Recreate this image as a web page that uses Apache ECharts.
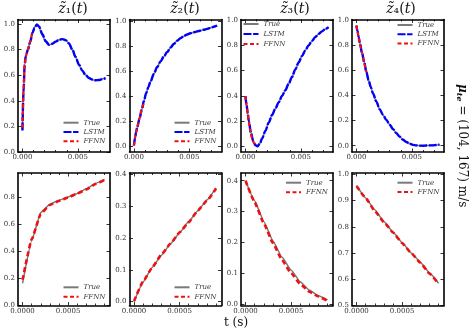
<!DOCTYPE html>
<html>
<head>
<meta charset="utf-8">
<script src="https://cdn.jsdelivr.net/npm/echarts@6/dist/echarts.min.js"></script>
<style>
  html, body { margin: 0; padding: 0; background: #fff; }
  #chart { width: 474px; height: 335px; }
</style>
</head>
<body>
<div id="chart"></div>
<script>
// ---- time grids (s) ----
const tLong = [0, 0.0001, 0.0002, 0.0003, 0.0005, 0.0007, 0.0009, 0.0011, 0.0013, 0.0015,
  0.0018, 0.0021, 0.0024, 0.0027, 0.0030, 0.0033, 0.0036, 0.0039, 0.0042, 0.0045,
  0.0048, 0.0051, 0.0054, 0.0057, 0.0060, 0.0063, 0.0066, 0.0069, 0.0072, 0.0075];
const tShort = [0, 0.0001, 0.0002, 0.0003, 0.0004, 0.0005, 0.0006, 0.0007, 0.0008, 0.0009];

// ---- full-horizon trajectories ----
const z1True = [0.165, 0.48, 0.69, 0.75, 0.805, 0.865, 0.935, 0.975, 1.0, 0.975,
  0.91, 0.86, 0.835, 0.845, 0.862, 0.876, 0.882, 0.875, 0.85, 0.80,
  0.74, 0.68, 0.635, 0.60, 0.578, 0.565, 0.56, 0.562, 0.57, 0.578];
const z1Lstm = [0.17, 0.47, 0.68, 0.75, 0.80, 0.86, 0.93, 0.97, 0.995, 0.98,
  0.92, 0.865, 0.838, 0.845, 0.862, 0.876, 0.882, 0.874, 0.848, 0.80,
  0.742, 0.682, 0.636, 0.60, 0.578, 0.566, 0.56, 0.562, 0.569, 0.577];
const z2True = [0, 0.062, 0.108, 0.146, 0.217, 0.286, 0.358, 0.42, 0.47, 0.515,
  0.575, 0.63, 0.675, 0.715, 0.75, 0.785, 0.815, 0.84, 0.86, 0.877,
  0.89, 0.90, 0.908, 0.915, 0.921, 0.928, 0.935, 0.943, 0.952, 0.962];
const z2Lstm = [0.003, 0.064, 0.11, 0.148, 0.218, 0.287, 0.358, 0.42, 0.47, 0.515,
  0.576, 0.63, 0.675, 0.714, 0.75, 0.785, 0.815, 0.84, 0.86, 0.877,
  0.89, 0.90, 0.908, 0.915, 0.921, 0.928, 0.935, 0.943, 0.952, 0.962];
const z3True = [0.40, 0.335, 0.268, 0.205, 0.11, 0.045, 0.013, 0.002, 0.025, 0.065,
  0.125, 0.19, 0.25, 0.30, 0.35, 0.40, 0.445, 0.495, 0.55, 0.61,
  0.665, 0.715, 0.76, 0.80, 0.835, 0.865, 0.89, 0.91, 0.928, 0.945];
const z3Lstm = [0.40, 0.333, 0.266, 0.203, 0.108, 0.044, 0.012, 0.003, 0.024, 0.064,
  0.125, 0.19, 0.25, 0.30, 0.35, 0.40, 0.446, 0.496, 0.55, 0.61,
  0.665, 0.715, 0.76, 0.80, 0.835, 0.865, 0.89, 0.91, 0.928, 0.944];
const z4True = [0.958, 0.91, 0.865, 0.82, 0.74, 0.665, 0.585, 0.52, 0.465, 0.415,
  0.35, 0.29, 0.245, 0.205, 0.168, 0.132, 0.10, 0.072, 0.048, 0.03,
  0.016, 0.007, 0.002, 0.0, 0.0, 0.001, 0.002, 0.004, 0.006, 0.008];
const z4Lstm = [0.955, 0.91, 0.864, 0.82, 0.74, 0.665, 0.586, 0.52, 0.465, 0.415,
  0.35, 0.29, 0.245, 0.205, 0.168, 0.132, 0.10, 0.072, 0.048, 0.03,
  0.016, 0.007, 0.003, 0.001, 0.0, 0.002, 0.003, 0.003, 0.006, 0.009];

// ---- early-time window ----
const z1Short = [0.165, 0.48, 0.69, 0.75, 0.78, 0.805, 0.83, 0.865, 0.905, 0.935];
const z1Ffnn  = [0.19, 0.49, 0.68, 0.745, 0.775, 0.80, 0.83, 0.86, 0.90, 0.93];
const z2Short = [0, 0.062, 0.108, 0.146, 0.182, 0.217, 0.252, 0.286, 0.32, 0.358];
const z2Ffnn  = [0.002, 0.064, 0.108, 0.148, 0.183, 0.218, 0.25, 0.287, 0.318, 0.356];
const z3Short = [0.40, 0.335, 0.268, 0.205, 0.152, 0.11, 0.072, 0.045, 0.027, 0.013];
const z3Ffnn  = [0.40, 0.33, 0.262, 0.198, 0.142, 0.10, 0.065, 0.04, 0.024, 0.01];
const z4Short = [0.958, 0.91, 0.865, 0.82, 0.78, 0.74, 0.70, 0.665, 0.625, 0.585];
const z4Ffnn  = [0.955, 0.91, 0.86, 0.818, 0.778, 0.738, 0.70, 0.663, 0.622, 0.583];

// ---- tick values ----
const xMajorLong = [0, 0.005];
const xMinorLong = [0.001, 0.002, 0.003, 0.004, 0.006, 0.007];
const xMajorShort = [0, 0.0005];
const xMinorShort = [0.0001, 0.0002, 0.0003, 0.0004, 0.0006, 0.0007, 0.0008, 0.0009];
const yTicksUnit = [0, 0.2, 0.4, 0.6, 0.8, 1.0];
const yTicksZ1Short = [0, 0.2, 0.4, 0.6, 0.8];
const yTicksLow = [0, 0.1, 0.2, 0.3, 0.4];
const yTicksZ4Short = [0.5, 0.6, 0.7, 0.8, 0.9, 1.0];

const C_TRUE = '#7a7a7a', C_LSTM = '#0000ff', C_FFNN = '#ee1111';
const SERIF = 'DejaVu Serif';

const pair = (ts, vs) => ts.map((t, i) => [t, vs[i]]);

// panel layout and content
const panels = [
  { left: 18,  top: 19.5, x: [-0.0004, 0.0079], y: [0, 1.035],    yt: yTicksUnit, long: true,
    tr: z1True, ls: z1Lstm, ff: z1Ffnn, leg: [62.5, 118.2, 0.3] },
  { left: 129.5, top: 19.5, x: [-0.0004, 0.0079], y: [-0.05, 1.01], yt: yTicksUnit, long: true,
    tr: z2True, ls: z2Lstm, ff: z2Ffnn, leg: [173.5, 118.2, 0.3] },
  { left: 241, top: 19.5, x: [-0.0004, 0.0079], y: [-0.042, 1.004], yt: yTicksUnit, long: true,
    tr: z3True, ls: z3Lstm, ff: z3Ffnn, leg: [242.5, 19.5, 1] },
  { left: 352, top: 19.5, x: [-0.0004, 0.0079], y: [-0.05, 1.004], yt: yTicksUnit, long: true,
    tr: z4True, ls: z4Lstm, ff: z4Ffnn, leg: [396.5, 20.5, 0.3] },
  { left: 18,  top: 173, x: [-0.00005, 0.00096], y: [0, 0.982],   yt: yTicksZ1Short, long: false,
    tr: z1Short, ff: z1Ffnn, leg: [62.5, 282.8, 0.4] },
  { left: 129.5, top: 173, x: [-0.00005, 0.00096], y: [-0.012, 0.405], yt: yTicksLow, long: false,
    tr: z2Short, ff: z2Ffnn, leg: [173.5, 282.8, 0.4] },
  { left: 241, top: 173, x: [-0.00005, 0.00096], y: [-0.005, 0.425], yt: yTicksLow, long: false,
    tr: z3Short, ff: z3Ffnn, leg: [285, 178.2, 0.6] },
  { left: 352, top: 173, x: [-0.00005, 0.00096], y: [0.5, 1.005], yt: yTicksZ4Short, long: false,
    tr: z4Short, ff: z4Ffnn, leg: [396.5, 178.2, 0.3] }
];
const PW = 92, PH = 132.5;

const grid = [], xAxis = [], yAxis = [], series = [], legend = [];

function xAx(gi, p, position, ticks, len, main, labels) {
  const dec = p.long ? 3 : 4;
  return {
    type: 'value', gridIndex: gi, position, min: p.x[0], max: p.x[1],
    axisLine: { show: main, onZero: false, lineStyle: { color: '#000', width: 1.6 } },
    axisTick: { show: true, inside: true, length: len, customValues: ticks,
      lineStyle: { color: '#000', width: 0.8 } },
    axisLabel: { show: labels, customValues: ticks, formatter: v => v.toFixed(dec),
      fontFamily: SERIF, fontSize: 7, color: '#333', margin: 2 },
    splitLine: { show: false }
  };
}
function yAx(gi, p, position, labels) {
  return {
    type: 'value', gridIndex: gi, position, min: p.y[0], max: p.y[1],
    axisLine: { show: true, onZero: false, lineStyle: { color: '#000', width: 1.6 } },
    axisTick: { show: true, inside: true, length: 3.5, customValues: p.yt,
      lineStyle: { color: '#000', width: 0.8 } },
    axisLabel: { show: labels, customValues: p.yt, formatter: v => v.toFixed(1),
      fontFamily: SERIF, fontSize: 7, color: '#333', margin: 3 },
    splitLine: { show: false }
  };
}

panels.forEach((p, gi) => {
  grid.push({ left: p.left, top: p.top, width: PW, height: PH });
  const major = p.long ? xMajorLong : xMajorShort;
  const minor = p.long ? xMinorLong : xMinorShort;
  const xi = xAxis.length, yi = yAxis.length;
  xAxis.push(xAx(gi, p, 'bottom', major, 3.5, true, true));
  xAxis.push(xAx(gi, p, 'bottom', minor, 2, false, false));
  xAxis.push(xAx(gi, p, 'top', major, 3.5, true, false));
  xAxis.push(xAx(gi, p, 'top', minor, 2, false, false));
  yAxis.push(yAx(gi, p, 'left', true));
  yAxis.push(yAx(gi, p, 'right', false));

  const base = { type: 'line', xAxisIndex: xi, yAxisIndex: yi, symbol: 'none',
    smooth: p.long ? 0.3 : 0.12, smoothMonotone: 'x', silent: true };
  const ts = p.long ? tLong : tShort;
  series.push(Object.assign({}, base, { name: 'True', data: pair(ts, p.tr),
    lineStyle: { color: C_TRUE, width: 1.5 }, itemStyle: { color: C_TRUE } }));
  if (p.long) {
    series.push(Object.assign({}, base, { name: 'LSTM', data: pair(tLong, p.ls),
      lineStyle: { color: C_LSTM, width: 2.4, type: [8, 1.6] }, itemStyle: { color: C_LSTM } }));
  }
  series.push(Object.assign({}, base, { name: 'FFNN', data: pair(tShort, p.ff),
    lineStyle: { color: C_FFNN, width: p.long ? 2.2 : 2.6, type: p.long ? [4, 2.5] : [5, 3] },
    itemStyle: { color: C_FFNN } }));

  legend.push({
    left: p.leg[0], top: p.leg[1], orient: 'vertical', padding: 0,
    itemGap: p.leg[2], itemWidth: 15, itemHeight: 9, selectedMode: false,
    data: p.long ? ['True', 'LSTM', 'FFNN'] : ['True', 'FFNN'],
    itemStyle: { opacity: 0 },
    textStyle: { fontFamily: SERIF, fontStyle: 'italic', fontSize: 7, color: '#333', lineHeight: 9 }
  });
});

const titleX = [73, 185, 295, 401];
const subs = ['\u2081', '\u2082', '\u2083', '\u2084'];
const graphic = titleX.map((x, i) => ({
  type: 'text', x, y: 9.5, silent: true,
  style: {
    text: '{i|z\u0303}{n|' + subs[i] + '(}{i|t}{n|)}',
    align: 'center', verticalAlign: 'middle',
    rich: {
      i: { fontFamily: SERIF, fontStyle: 'italic', fontSize: 14, fill: '#111' },
      n: { fontFamily: SERIF, fontSize: 14, fill: '#111' }
    }
  }
}));
graphic.push({
  type: 'text', x: 236, y: 323, silent: true,
  style: { text: 't (s)', align: 'center', verticalAlign: 'middle',
    fontFamily: SERIF, fontSize: 12, fill: '#111' }
});
// vertical annotation on the right, reading top to bottom
graphic.push({
  type: 'text', x: 462, y: 84, rotation: -Math.PI / 2, silent: true,
  style: {
    text: '{m|\u03bc}{s|te}{n| = (104, 167) m/s}',
    align: 'left', verticalAlign: 'middle',
    rich: {
      m: { fontFamily: SERIF, fontStyle: 'italic', fontWeight: 'bold', fontSize: 12, fill: '#111' },
      s: { fontFamily: SERIF, fontStyle: 'italic', fontWeight: 'bold', fontSize: 8, fill: '#111',
           verticalAlign: 'bottom', padding: [6, 0, 0, 0] },
      n: { fontFamily: SERIF, fontSize: 12, fill: '#111' }
    }
  }
});

const chart = echarts.init(document.getElementById('chart'), null, { renderer: 'canvas' });
chart.setOption({
  animation: false,
  backgroundColor: '#fff',
  grid, xAxis, yAxis, series, legend, graphic
});
</script>
</body>
</html>
